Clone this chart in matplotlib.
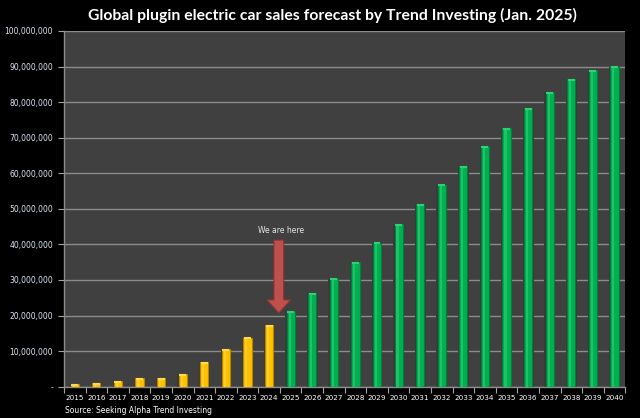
import matplotlib
matplotlib.use('Agg')
import matplotlib.pyplot as plt
import numpy as np

years = [str(y) for y in range(2015, 2041)]
actual = [0.67, 1.0, 1.5, 2.3, 2.5, 3.5, 6.9, 10.5, 13.8, 17.3]
forecast = [21.3, 26.2, 30.6, 35.1, 40.5, 45.8, 51.3, 56.8, 62.0,
            67.6, 72.8, 78.3, 82.9, 86.4, 89.0, 90.0]
yticks = list(range(0, 100_000_001, 10_000_000))

sales = np.array(actual + forecast) * 1e6
n_act = len(actual)
x = np.arange(len(years))

fig = plt.figure(figsize=(6.4, 4.18), dpi=100, facecolor='black')
ax = fig.add_axes([0.1, 0.075, 0.877, 0.851])
ax.set_facecolor('#404040')

# bars, with darker glow, main body and lighter highlight
cols = ['#FFC000'] * n_act + ['#00B050'] * (len(years) - n_act)
edges = ['#B38600'] * n_act + ['#00803A'] * (len(years) - n_act)
hi = ['#FFD84D'] * n_act + ['#2ED17A'] * (len(years) - n_act)
ax.bar(x, sales, width=0.5, color='#3A3A3A', zorder=2)
ax.bar(x, sales, width=0.38, color=cols, edgecolor=edges, linewidth=0.8, zorder=3)
ax.bar(x - 0.05, sales, width=0.1, color=hi, linewidth=0, zorder=4, alpha=0.6)
ax.scatter(x, sales - 0.25e6, marker='_', s=25, color=hi, linewidths=1.5, zorder=5)

ax.set_xlim(-0.5, len(years) - 0.5)
ax.set_ylim(0, 100_000_000)
ax.set_yticks(yticks)
ax.set_yticklabels(['-'] + [f'{v:,}' for v in yticks[1:]],
                   fontsize=5.5, color='#DCE6F2', family='DejaVu Sans')
ax.yaxis.grid(True, color='#8C8C8C', linewidth=1)
ax.set_axisbelow(True)

ax.set_xticks(x)
ax.set_xticklabels(years, fontsize=5.2, color='white', family='DejaVu Sans')
ax.set_xticks(np.arange(-0.5, len(years)), minor=True)
ax.tick_params(axis='x', which='major', length=0, pad=6)
ax.tick_params(axis='x', which='minor', length=4, color='#A6A6A6', width=0.8)
ax.tick_params(axis='y', length=4, color='#A6A6A6', width=0.8, pad=4)

for s in ['top', 'right']:
    ax.spines[s].set_visible(False)
for s in ['left', 'bottom']:
    ax.spines[s].set_color('#8C8C8C')
    ax.spines[s].set_linewidth(1)

# "We are here" arrow
ax.arrow(9.45, 41.2e6, 0, -20.5e6, width=0.45, head_width=1.1,
         head_length=3.7e6, length_includes_head=True,
         facecolor='#C0504D', edgecolor='#8C3431', linewidth=0.8, zorder=6)
ax.text(9.55, 44.0e6, 'We are here', fontsize=5.5, color='#E6E6E6',
        ha='center', va='center', family='DejaVu Sans')

fig.text(0.52, 0.963, 'Global plugin electric car sales forecast by Trend Investing (Jan. 2025)',
         fontsize=11.3, fontweight='bold', color='white', ha='center', va='center',
         family='Lato')
fig.text(0.102, 0.019, 'Source: Seeking Alpha Trend Investing', fontsize=5.5,
         color='white', ha='left', va='center', family='DejaVu Sans')

fig.savefig('out.png', dpi=100, facecolor='black')
